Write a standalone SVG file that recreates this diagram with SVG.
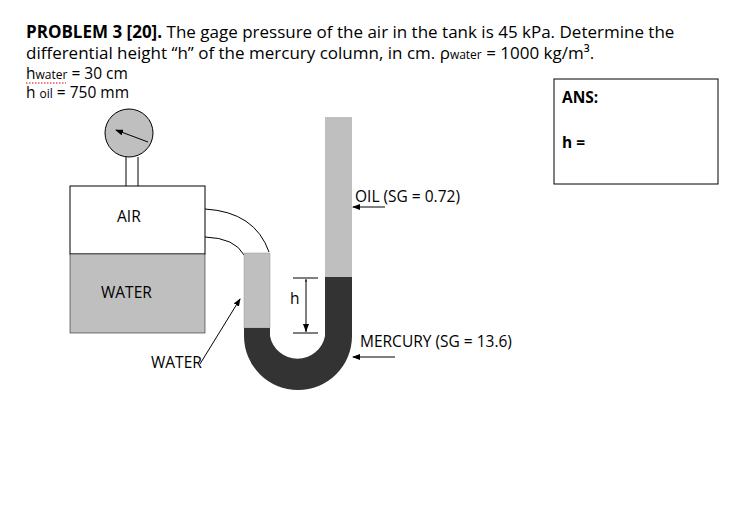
<svg xmlns="http://www.w3.org/2000/svg" width="741" height="511" viewBox="0 0 741 511">
<style>
text{font-family:"Open Sans","DejaVu Sans",sans-serif;font-size:15.5px;fill:#000}
.t{font-size:17px}
.s{font-size:12px}
.l{fill:none;stroke:#000;stroke-width:1}
</style>
<defs><marker id="a" markerWidth="8" markerHeight="6" refX="7" refY="3" orient="auto"><path d="M0,0L8,3L0,6z" fill="#000"/></marker></defs>
<rect width="741" height="511" fill="#fff"/>
<text x="26" y="38" class="t"><tspan font-weight="bold">PROBLEM 3 [20].</tspan> The gage pressure of the air in the tank is 45 kPa.  Determine the</text>
<text x="26" y="59" class="t">differential height “h” of the mercury column, in cm. ρ<tspan class="s">water</tspan> = 1000 kg/m³.</text>
<text x="26" y="79">h<tspan class="s">water</tspan> = 30 cm</text>
<path d="M26,83h40" stroke="#d00" stroke-width="1" stroke-dasharray="1.5,1.5"/>
<text x="26" y="98">h <tspan class="s">oil</tspan> = 750 mm</text>
<g id="ans"><rect x="554" y="79" width="164" height="105" fill="#fff" stroke="#000"/>
<text x="562" y="103" font-weight="bold" font-size="17">ANS:</text><text x="562" y="148" font-weight="bold" font-size="17">h =</text></g>
<g id="gauge"><path class="l" d="M126,157V186M138,157V186"/><circle cx="129" cy="133" r="24" fill="#bfbfbf" stroke="#000"/>
<path class="l" d="M148,142L116,130" marker-end="url(#a)"/></g>
<g id="tank"><rect x="70" y="186" width="135" height="68" fill="#fff" stroke="#000"/><rect x="70" y="254" width="135" height="79" fill="#bfbfbf" stroke="#000" stroke-width="0.5"/>
<text x="117" y="222">AIR</text><text x="101" y="298">WATER</text></g>
<g id="connectors">
<path class="l" d="M205,209Q255,212 269,252M205,237Q235,238 244,255"/>
<path class="l" d="M200,364L240,299" marker-end="url(#a)"/>
<path class="l" d="M385,207H353" marker-end="url(#a)"/>
<path class="l" d="M395,357H353" marker-end="url(#a)"/>
<path class="l" d="M293,278H318M293,333H318M306,279V332"/>
<path class="l" d="M306,282V280M306,329V331" marker-end="url(#a)"/>
</g>
<g id="utube">
<rect x="244" y="253" width="26" height="75" fill="#bfbfbf" stroke="#999" stroke-width="0.5"/>
<rect x="325" y="117" width="27" height="160" fill="#bfbfbf"/>
<path d="M244,328H270V336A28,28 0 0 0 325,336V277H352V336A54,54 0 0 1 244,336Z" fill="#333"/>
<text x="290" y="304">h</text>
</g>
<text x="355" y="202">OIL (SG = 0.72)</text>
<text x="360" y="347">MERCURY (SG = 13.6)</text>
<text x="151" y="368">WATER</text>
</svg>
